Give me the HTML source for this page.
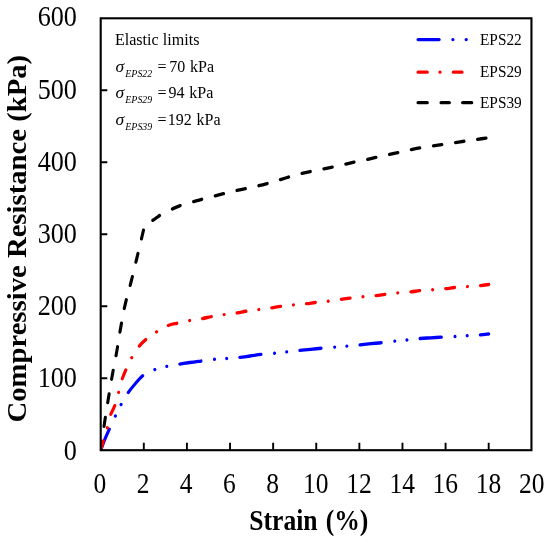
<!DOCTYPE html>
<html lang="en"><head><meta charset="utf-8"><title>Compressive Resistance vs Strain</title>
<style>html,body{margin:0;padding:0;background:#fff}svg{display:block}text{font-family:"Liberation Serif","Times New Roman",serif;fill:#000}</style></head><body>
<svg width="550" height="544" viewBox="0 0 550 544">
<rect x="0" y="0" width="550" height="544" fill="#fff"/>
<defs><clipPath id="plotclip"><rect x="100.70" y="18.30" width="430.75" height="431.90"/></clipPath></defs>
<g clip-path="url(#plotclip)">
<g transform="scale(0.93,1)" fill="none" stroke-width="3.33" stroke-linecap="round" stroke-linejoin="round">
<path d="M108.28,450.20 C108.96,445.67 110.99,431.65 112.37,423.00 C113.75,414.35 115.16,406.27 116.56,398.30 C117.96,390.33 119.25,383.03 120.75,375.20 C122.26,367.37 124.09,359.23 125.59,351.30 C127.10,343.37 128.26,335.48 129.78,327.60 C131.31,319.72 132.83,311.77 134.73,304.00 C136.63,296.23 139.09,288.75 141.18,281.00 C143.28,273.25 145.30,265.27 147.31,257.50 C149.32,249.73 151.94,239.38 153.23,234.40 C154.52,229.42 154.32,229.43 155.05,227.60 C155.79,225.77 156.11,224.60 157.63,223.40 C159.16,222.20 162.33,221.42 164.19,220.40 C166.06,219.38 167.26,218.30 168.82,217.30 C170.38,216.30 170.79,215.80 173.55,214.40 C176.31,213.00 181.59,210.50 185.38,208.90 C189.16,207.30 192.51,206.00 196.24,204.80 C199.96,203.60 203.96,202.71 207.74,201.70 C211.52,200.69 215.13,199.68 218.92,198.75 C222.72,197.82 226.49,197.06 230.54,196.10 C234.59,195.14 239.35,193.90 243.23,193.00 C247.10,192.10 249.84,191.52 253.76,190.70 C257.69,189.88 262.80,188.90 266.77,188.10 C270.75,187.30 273.76,186.78 277.63,185.90 C281.51,185.02 286.18,183.80 290.00,182.80 C293.82,181.80 296.72,180.98 300.54,179.90 C304.35,178.82 308.98,177.37 312.90,176.30 C316.83,175.23 320.16,174.38 324.09,173.50 C328.01,172.62 332.51,171.77 336.45,171.00 C340.39,170.23 343.82,169.63 347.74,168.90 C351.67,168.17 356.13,167.38 360.00,166.60 C363.87,165.82 367.10,165.03 370.97,164.20 C374.84,163.37 379.30,162.38 383.23,161.60 C387.15,160.82 390.59,160.30 394.52,159.50 C398.44,158.70 402.90,157.60 406.77,156.80 C410.65,156.00 413.85,155.47 417.74,154.70 C421.63,153.93 426.24,153.00 430.11,152.20 C433.98,151.40 437.06,150.67 440.97,149.90 C444.87,149.13 449.62,148.25 453.55,147.60 C457.47,146.95 460.54,146.55 464.52,146.00 C468.49,145.45 473.44,144.83 477.42,144.30 C481.40,143.77 484.43,143.37 488.39,142.80 C492.35,142.23 497.22,141.45 501.18,140.90 C505.14,140.35 508.10,140.03 512.15,139.50 C516.20,138.97 523.26,138.00 525.48,137.70" stroke="#000" stroke-dasharray="9 15.0"/>
<path d="M108.28,450.20 C109.05,448.33 111.36,442.48 112.90,439.00 C114.44,435.52 115.75,432.95 117.53,429.30 C119.30,425.65 121.49,421.15 123.55,417.10 C125.61,413.05 127.62,408.93 129.89,405.00 C132.17,401.07 134.66,397.00 137.20,393.50 C139.75,390.00 142.47,386.95 145.16,384.00 C147.85,381.05 151.00,377.77 153.33,375.80 C155.66,373.83 157.06,373.20 159.14,372.20 C161.22,371.20 162.47,370.77 165.81,369.80 C169.14,368.83 174.80,367.32 179.14,366.40 C183.48,365.48 187.63,364.95 191.83,364.30 C196.02,363.65 200.07,363.07 204.30,362.50 C208.53,361.93 212.89,361.43 217.20,360.90 C221.52,360.37 225.86,359.70 230.22,359.30 C234.57,358.90 239.03,358.78 243.33,358.50 C247.63,358.22 251.77,358.02 256.02,357.60 C260.27,357.18 264.48,356.55 268.82,356.00 C273.15,355.45 277.72,354.75 282.04,354.30 C286.36,353.85 290.45,353.68 294.73,353.30 C299.01,352.92 303.35,352.47 307.74,352.00 C312.13,351.53 316.72,350.95 321.08,350.50 C325.43,350.05 329.53,349.70 333.87,349.30 C338.21,348.90 342.78,348.47 347.10,348.10 C351.42,347.73 355.54,347.42 359.78,347.10 C364.03,346.78 368.23,346.57 372.58,346.20 C376.94,345.83 381.56,345.32 385.91,344.90 C390.27,344.48 394.43,344.08 398.71,343.70 C402.99,343.32 407.38,343.02 411.61,342.60 C415.84,342.18 419.77,341.63 424.09,341.20 C428.41,340.77 433.10,340.43 437.53,340.00 C441.95,339.57 446.33,338.97 450.65,338.60 C454.96,338.23 459.21,338.05 463.44,337.80 C467.67,337.55 471.74,337.32 476.02,337.10 C480.30,336.88 484.71,336.75 489.14,336.50 C493.57,336.25 498.24,335.85 502.58,335.60 C506.92,335.35 511.34,335.27 515.16,335.00 C518.98,334.73 523.76,334.17 525.48,334.00" stroke="#00f" stroke-dasharray="22.9 14.7 0.01 13.1 0.01 14.2"/>
<path d="M108.28,450.20 C108.87,448.33 110.65,442.68 111.83,439.00 C113.01,435.32 114.35,431.77 115.38,428.10 C116.40,424.43 116.59,420.80 117.96,417.00 C119.32,413.20 121.97,409.33 123.55,405.30 C125.13,401.27 126.18,396.98 127.42,392.80 C128.66,388.62 129.66,384.00 130.97,380.20 C132.28,376.40 133.52,373.70 135.27,370.00 C137.02,366.30 139.15,361.87 141.45,358.00 C143.75,354.13 146.46,349.93 149.09,346.80 C151.71,343.67 154.00,341.69 157.20,339.20 C160.41,336.71 164.51,334.09 168.33,331.85 C172.16,329.61 176.39,327.21 180.16,325.75 C183.93,324.29 186.96,323.98 190.97,323.10 C194.97,322.23 199.96,321.22 204.19,320.50 C208.42,319.78 212.17,319.52 216.34,318.80 C220.52,318.08 225.07,316.92 229.25,316.20 C233.42,315.48 237.40,315.00 241.40,314.50 C245.39,314.00 249.10,313.78 253.23,313.20 C257.35,312.62 261.92,311.62 266.13,311.00 C270.34,310.38 274.39,310.00 278.49,309.50 C282.60,309.00 286.59,308.57 290.75,308.00 C294.91,307.43 299.21,306.62 303.44,306.10 C307.67,305.58 311.94,305.28 316.13,304.90 C320.32,304.52 324.50,304.23 328.60,303.80 C332.71,303.37 336.65,302.73 340.75,302.30 C344.86,301.87 349.03,301.67 353.23,301.20 C357.42,300.73 361.83,300.05 365.91,299.50 C370.00,298.95 373.62,298.37 377.74,297.90 C381.86,297.43 386.45,297.07 390.65,296.70 C394.84,296.33 398.73,296.12 402.90,295.70 C407.08,295.28 411.49,294.67 415.70,294.20 C419.91,293.73 424.01,293.27 428.17,292.90 C432.33,292.53 436.47,292.40 440.65,292.00 C444.82,291.60 449.05,290.88 453.23,290.50 C457.40,290.12 461.54,289.98 465.70,289.70 C469.86,289.42 474.00,289.20 478.17,288.80 C482.35,288.40 486.58,287.68 490.75,287.30 C494.93,286.92 499.16,286.77 503.23,286.50 C507.29,286.23 511.45,286.03 515.16,285.70 C518.87,285.37 523.76,284.70 525.48,284.50" stroke="#f00" stroke-dasharray="9.6 13.9 0.01 14.1"/>
</g></g>
<g stroke="#000" fill="none">
<rect x="100.70" y="18.30" width="430.75" height="431.90" stroke-width="2.1"/>
<path d="M143.81,450.20 V442.80 M186.92,450.20 V442.80 M230.03,450.20 V442.80 M273.14,450.20 V442.80 M316.25,450.20 V442.80 M359.36,450.20 V442.80 M402.47,450.20 V442.80 M445.58,450.20 V442.80 M488.69,450.20 V442.80 M100.70,378.22 H107.30 M100.70,306.23 H107.30 M100.70,234.25 H107.30 M100.70,162.27 H107.30 M100.70,90.28 H107.30" stroke-width="1.9"/>
</g>
<g font-size="29.3" text-anchor="middle">
<text transform="translate(99.85,492.8) scale(0.87,1)">0</text>
<text transform="translate(143.04,492.8) scale(0.87,1)">2</text>
<text transform="translate(186.22,492.8) scale(0.87,1)">4</text>
<text transform="translate(229.41,492.8) scale(0.87,1)">6</text>
<text transform="translate(272.59,492.8) scale(0.87,1)">8</text>
<text transform="translate(315.78,492.8) scale(0.87,1)">10</text>
<text transform="translate(358.96,492.8) scale(0.87,1)">12</text>
<text transform="translate(402.15,492.8) scale(0.87,1)">14</text>
<text transform="translate(445.33,492.8) scale(0.87,1)">16</text>
<text transform="translate(488.52,492.8) scale(0.87,1)">18</text>
<text transform="translate(531.70,492.8) scale(0.87,1)">20</text>
</g>
<g font-size="30" text-anchor="end">
<text transform="translate(76.9,459.60) scale(0.873,1)">0</text>
<text transform="translate(76.9,387.40) scale(0.873,1)">100</text>
<text transform="translate(76.9,315.20) scale(0.873,1)">200</text>
<text transform="translate(76.9,243.00) scale(0.873,1)">300</text>
<text transform="translate(76.9,170.80) scale(0.873,1)">400</text>
<text transform="translate(76.9,98.60) scale(0.873,1)">500</text>
<text transform="translate(76.9,26.40) scale(0.873,1)">600</text>
</g>
<text font-size="28.6" font-weight="bold" text-anchor="middle" word-spacing="1.8" transform="translate(308.8,530.4) scale(0.896,1)">Strain (%)</text>
<text font-size="28.7" font-weight="bold" text-anchor="middle" transform="translate(25.9,238.7) rotate(-90) scale(1,0.93)">Compressive Resistance (kPa)</text>
<text font-size="17" transform="translate(114.9,44.9) scale(0.948,1)">Elastic limits</text>
<g font-size="16">
<text transform="translate(115.4,71.50)"><tspan font-style="italic" font-size="17.5">σ</tspan><tspan font-style="italic" font-size="9.9" dy="5" dx="1.3">EPS22</tspan><tspan dy="-5" dx="5.3">=</tspan><tspan dx="2.7" word-spacing="0.8">70 kPa</tspan></text>
<text transform="translate(115.4,98.15)"><tspan font-style="italic" font-size="17.5">σ</tspan><tspan font-style="italic" font-size="9.9" dy="5" dx="1.3">EPS29</tspan><tspan dy="-5" dx="5.3">=</tspan><tspan dx="1.95" word-spacing="0.8">94 kPa</tspan></text>
<text transform="translate(115.4,124.80)"><tspan font-style="italic" font-size="17.5">σ</tspan><tspan font-style="italic" font-size="9.9" dy="5" dx="1.3">EPS39</tspan><tspan dy="-5" dx="5.3">=</tspan><tspan dx="1.15" word-spacing="0.8">192 kPa</tspan></text>
</g>
<g fill="none" stroke-width="3.3" stroke-linecap="round">
<path d="M418.1,39.6 H439.1 M452.9,39.6 h0.01 M466.2,39.6 h0.01" stroke="#00f"/>
<path d="M418.1,72.2 H427.2 M440,72.2 h0.01 M453.3,72.2 H462" stroke="#f00"/>
<path d="M418.1,102.7 H427.2 M441.1,102.7 H449.3 M462.7,102.7 H471.7" stroke="#000"/>
</g>
<g font-size="16.5">
<text transform="translate(480.0,44.80) scale(0.93,1)">EPS22</text>
<text transform="translate(480.0,77.00) scale(0.93,1)">EPS29</text>
<text transform="translate(480.0,108.20) scale(0.93,1)">EPS39</text>
</g>
</svg></body></html>
